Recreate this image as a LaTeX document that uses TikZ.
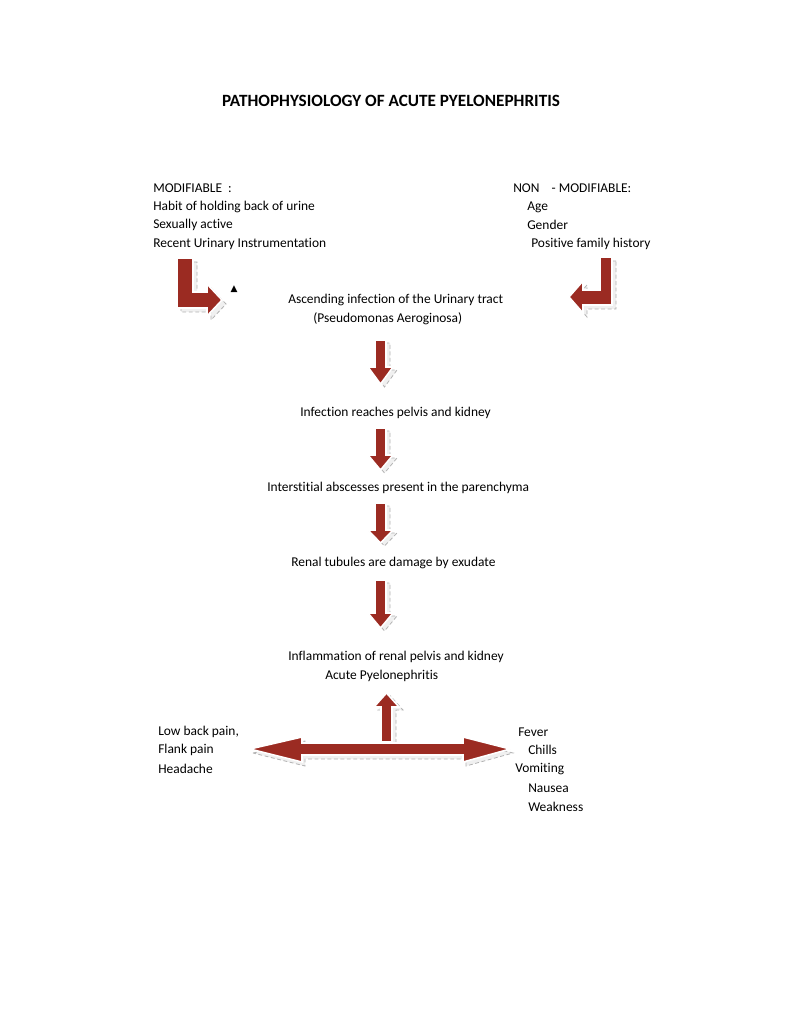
\documentclass[tikz,border=0pt]{standalone}
\usepackage{fontspec}
\setmainfont{Carlito}[Ligatures=NoCommon]
\newfontfamily\symfont{DejaVu Sans}
\begin{document}
\begin{tikzpicture}[x=0.7737pt,y=-0.7737pt,
  txt/.style={anchor=west,inner sep=0pt,font=\fontsize{10.4}{12.5}\selectfont},
  redarrow/.style={fill=arrowred,draw=white,line width=1.2pt},
  shadowarrow/.style={fill=gray!12,draw=gray!60,densely dashed,line width=0.6pt}]
\definecolor{arrowred}{HTML}{9B2B22}
\useasboundingbox[fill=white] (0,0) rectangle (791,1023);

% title
\node[inner sep=0pt,font=\fontsize{13.3}{15}\selectfont\bfseries] (title) at (391,101) {PATHOPHYSIOLOGY OF ACUTE PYELONEPHRITIS};

% modifiable
\node[txt] (mod) at (153,188) {MODIFIABLE\ \ :};
\node[txt] (m1) at (153,207) {Habit of holding back of urine};
\node[txt] (m2) at (153,225) {Sexually active};
\node[txt] (m3) at (153,244) {Recent Urinary Instrumentation};

% non-modifiable
\node[txt] (non) at (513,188) {NON\ \ \ \ - MODIFIABLE:};
\node[txt] (n1) at (527,207) {Age};
\node[txt] (n2) at (527,225) {Gender};
\node[txt] (n3) at (531,244) {Positive family history};

\node[inner sep=0pt,font=\symfont\fontsize{7}{8}\selectfont] (tri) at (234,289) {▲};

% flow texts
\node[txt] (s1) at (288,300) {Ascending infection of the Urinary tract};
\node[txt] (s1b) at (313,319) {(Pseudomonas Aeroginosa)};
\node[txt] (s2) at (300,413) {Infection reaches pelvis and kidney};
\node[txt] (s3) at (267,488) {Interstitial abscesses present in the parenchyma};
\node[txt] (s4) at (291,563) {Renal tubules are damage by exudate};
\node[txt] (s5) at (288,657) {Inflammation of renal pelvis and kidney};
\node[txt] (s5b) at (325,676) {Acute Pyelonephritis};

% symptoms left
\node[txt] (l1) at (158,732) {Low back pain,};
\node[txt] (l2) at (158,750) {Flank pain};
\node[txt] (l3) at (158,769) {Headache};
% symptoms right
\node[txt] (r1) at (518,732) {Fever};
\node[txt] (r2) at (528,750) {Chills};
\node[txt] (r3) at (515,769) {Vomiting};
\node[txt] (r4) at (528,788) {Nausea};
\node[txt] (r5) at (528,807) {Weakness};

% left L arrow
\def\Larrow{(177,258) -- (193,258) -- (193,292) -- (207,292) -- (207,284) -- (222,300) -- (207,316) -- (207,308) -- (177,308) -- cycle}
\begin{scope}[shift={(4,4)}]\path[shadowarrow] \Larrow;\end{scope}
\path[redarrow] \Larrow;

% right L arrow
\def\Rarrow{(612,257) -- (600,257) -- (600,290) -- (583,290) -- (583,281) -- (569,297) -- (583,313) -- (583,305) -- (612,305) -- cycle}
\begin{scope}[shift={(4,4)}]\path[shadowarrow] \Rarrow;\end{scope}
\path[redarrow] \Rarrow;

% down arrows
\foreach \top/\hb/\tip in {340/367/384, 428/455/470, 503/530/543, 580/613/628}{
  \begin{scope}[shift={(4,3)}]
  \path[shadowarrow] (375,\top) -- (386,\top) -- (386,\hb) -- (393,\hb) -- (380.5,\tip) -- (368,\hb) -- (375,\hb) -- cycle;
  \end{scope}
  \path[redarrow] (375,\top) -- (386,\top) -- (386,\hb) -- (393,\hb) -- (380.5,\tip) -- (368,\hb) -- (375,\hb) -- cycle;
}

% up arrow
\def\Uarrow{(381,742) -- (392,742) -- (392,707) -- (399,707) -- (386.5,693) -- (374,707) -- (381,707) -- cycle}
\begin{scope}[shift={(4,3)}]\path[shadowarrow] \Uarrow;\end{scope}
\path[redarrow] \Uarrow;

% horizontal double arrow
\def\Harrow{(250,749) -- (302,737) -- (302,743) -- (463,743) -- (463,737) -- (510,749) -- (463,762) -- (463,755) -- (302,755) -- (302,762) -- cycle}
\begin{scope}[shift={(3,4)}]\path[shadowarrow] \Harrow;\end{scope}
\path[redarrow] \Harrow;
\end{tikzpicture}
\end{document}
